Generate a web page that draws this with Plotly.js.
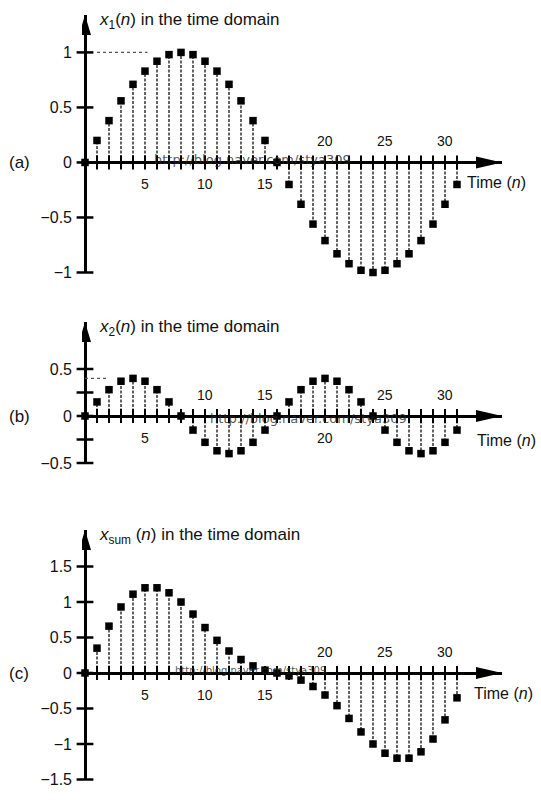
<!DOCTYPE html>
<html>
<head>
<meta charset="utf-8">
<script src="https://cdn.plot.ly/plotly-3.0.1.min.js"></script>
<style>html,body{margin:0;padding:0;background:#fff;}#chart{width:541px;height:805px;}</style>
</head>
<body>
<div id="chart"></div>
<script>
// ---- data ----
const n = [0,1,2,3,4,5,6,7,8,9,10,11,12,13,14,15,16,17,18,19,20,21,22,23,24,25,26,27,28,29,30,31];
const x1 = [0,0.2,0.38,0.56,0.71,0.83,0.92,0.98,1.0,0.98,0.92,0.83,0.71,0.56,0.38,0.2,
            0,-0.2,-0.38,-0.56,-0.71,-0.83,-0.92,-0.98,-1.0,-0.98,-0.92,-0.83,-0.71,-0.56,-0.38,-0.2];
const x2 = [0,0.15,0.28,0.37,0.4,0.37,0.28,0.15,0,-0.15,-0.28,-0.37,-0.4,-0.37,-0.28,-0.15,
            0,0.15,0.28,0.37,0.4,0.37,0.28,0.15,0,-0.15,-0.28,-0.37,-0.4,-0.37,-0.28,-0.15];
const xsum = [0,0.35,0.66,0.93,1.11,1.2,1.2,1.13,1.0,0.83,0.64,0.46,0.31,0.19,0.1,0.04,
              0,-0.04,-0.1,-0.19,-0.31,-0.46,-0.64,-0.83,-1.0,-1.13,-1.2,-1.2,-1.11,-0.93,-0.66,-0.35];
const xTickMarks = [1,2,3,4,5,6,7,8,9,10,11,12,13,14,15,16,17,18,19,20,21,22,23,24,25,26,27,28,29,30,31];
const xTickLabels = [5,10,15,20,25,30];
const sideA = ['below','below','below','above','above','above'];
const sideB = ['below','above','above','below','above','above'];
const sideC = ['below','below','below','above','above','above'];
const yTickA = [-1,-0.5,0,0.5,1];
const yTickB = [-0.5,-0.25,0,0.25,0.5];
const yLabB = [-0.5,0,0.5];
const yTickC = [-1.5,-1,-0.5,0,0.5,1,1.5];
const ampA = 1.0, ampB = 0.4;
const titles = ['<i>x</i><sub>1</sub>(<i>n</i>) in the time domain',
                '<i>x</i><sub>2</sub>(<i>n</i>) in the time domain',
                '<i>x</i><sub>sum</sub> (<i>n</i>) in the time domain'];
const panelLabels = ['(a)','(b)','(c)'];
const axisLabel = 'Time (<i>n</i>)';
const watermark = 'http://blog.naver.com/stya309';

// ---- geometry ----
const W = 541, H = 805;
const FONT = 'Liberation Sans, Arial, Helvetica, sans-serif';
const INK = '#111';
const xRange = [-0.25, 34.75];
const xDomain = [82/W, 502/W];
const panels = [
  {sfx:'',  data:x1,   yr:[-1, 1.34],   dom:[1-272.5/H, 1-15/H],  yt:yTickA, yl:yTickA, side:sideA},
  {sfx:'2', data:x2,   yr:[-0.5, 1.0],  dom:[1-463/H,  1-322/H],  yt:yTickB, yl:yLabB,  side:sideB},
  {sfx:'3', data:xsum, yr:[-1.5, 2.014],dom:[1-779.5/H,1-530/H],  yt:yTickC, yl:yTickC, side:sideC}
];

const traces = [];
const layout = {
  width: W, height: H, margin:{l:0,r:0,t:0,b:0},
  paper_bgcolor:'#fff', plot_bgcolor:'rgba(0,0,0,0)',
  showlegend:false, font:{family:FONT, color:INK},
  shapes:[], annotations:[]
};

function fmt(v){ return (v<0?'\u2212':'') + String(Math.abs(v)); }

panels.forEach((p, k) => {
  const xa = 'x'+p.sfx, ya = 'y'+p.sfx;
  const xk = 'xaxis'+p.sfx, yk = 'yaxis'+p.sfx;
  layout[xk] = {domain:xDomain, range:xRange, anchor:ya, showgrid:false,
    zeroline:true, zerolinecolor:'#000', zerolinewidth:3,
    showticklabels:false, ticks:'', showline:false, fixedrange:true};
  layout[yk] = {domain:p.dom, range:p.yr, anchor:xa, showgrid:false,
    zeroline:true, zerolinecolor:'#000', zerolinewidth:3,
    tickmode:'array', tickvals:p.yl, ticktext:p.yl.map(fmt), ticks:'',
    ticklabelstandoff:9, tickfont:{family:FONT, size:16, color:INK},
    showline:false, fixedrange:true};

  // stems
  const SX=[], SY=[];
  n.forEach((v,i)=>{ SX.push(v,v,null); SY.push(0,p.data[i],null); });
  traces.push({x:SX, y:SY, xaxis:xa, yaxis:ya, mode:'lines', hoverinfo:'skip',
    line:{color:'#222', width:1.4, dash:'3px,1.5px'}, cliponaxis:false});
  // x-axis tick marks
  traces.push({x:xTickMarks, y:xTickMarks.map(()=>0), xaxis:xa, yaxis:ya, mode:'markers',
    marker:{symbol:'line-ns-open', size:10, color:'#000', line:{color:'#000', width:2}}, cliponaxis:false, hoverinfo:'skip'});
  // y-axis tick marks
  traces.push({x:p.yt.map(()=>0), y:p.yt, xaxis:xa, yaxis:ya, mode:'markers',
    marker:{symbol:'line-ew-open', size:12, color:'#000', line:{color:'#000', width:2.5}}, cliponaxis:false, hoverinfo:'skip'});
  // sample points
  traces.push({x:n, y:p.data, xaxis:xa, yaxis:ya, mode:'markers',
    marker:{symbol:'square', size:7.5, color:'#000'}, cliponaxis:false});

  // arrowheads
  layout.shapes.push({type:'path', xref:xa, yref:ya, xsizemode:'pixel', ysizemode:'pixel',
    xanchor:xRange[1], yanchor:0, path:'M-26,6 L0,0 L-26,-6 Z', fillcolor:'#000', line:{width:0}});
  layout.shapes.push({type:'path', xref:xa, yref:ya, xsizemode:'pixel', ysizemode:'pixel',
    xanchor:0, yanchor:p.yr[1], path:'M-6,-20 L0,0 L6,-20 Z', fillcolor:'#000', line:{width:0}});

  // x tick labels
  xTickLabels.forEach((v,i)=>{
    layout.annotations.push({xref:xa, yref:ya, x:v, y:0, text:String(v), showarrow:false,
      yshift: p.side[i]==='above' ? 21 : -22, font:{family:FONT, size:14, color:INK}});
  });

  // panel label
  layout.annotations.push({xref:'paper', yref:ya, x:7/W, y:0, xanchor:'left', text:panelLabels[k],
    showarrow:false, font:{family:FONT, size:17, color:INK}});
  // title
  layout.annotations.push({xref:'paper', yref:'paper', x:97/W, y:p.dom[1]-6/H, xanchor:'left', yanchor:'middle',
    text:titles[k], showarrow:false, font:{family:FONT, size:17, color:INK}});
});

// axis labels "Time (n)"
const timePos = [[465,182],[475,440],[472,693]];
timePos.forEach(t=>{
  layout.annotations.push({xref:'paper', yref:'paper', x:t[0]/W, y:1-t[1]/H, xanchor:'left', yanchor:'middle',
    text:axisLabel, showarrow:false, font:{family:FONT, size:16, color:INK}});
});

// dotted amplitude guide lines
layout.shapes.push({type:'line', xref:'x', yref:'y', x0:1, x1:5.2, y0:ampA, y1:ampA,
  line:{color:'#555', width:1.2, dash:'dot'}});
layout.shapes.push({type:'line', xref:'x2', yref:'y2', x0:0, x1:1.8, y0:ampB, y1:ampB,
  line:{color:'#555', width:1.2, dash:'dot'}});

// scan watermark text
const wm = [[152,160,13],[208,418,13],[173,670,10]];
wm.forEach(w=>{
  layout.annotations.push({xref:'paper', yref:'paper', x:w[0]/W, y:1-w[1]/H, xanchor:'left', yanchor:'middle',
    text:watermark, showarrow:false, font:{family:'DejaVu Sans, sans-serif', size:w[2], color:'rgba(40,40,40,0.8)'}});
});

Plotly.newPlot('chart', traces, layout, {staticPlot:true, displayModeBar:false});
</script>
</body>
</html>
